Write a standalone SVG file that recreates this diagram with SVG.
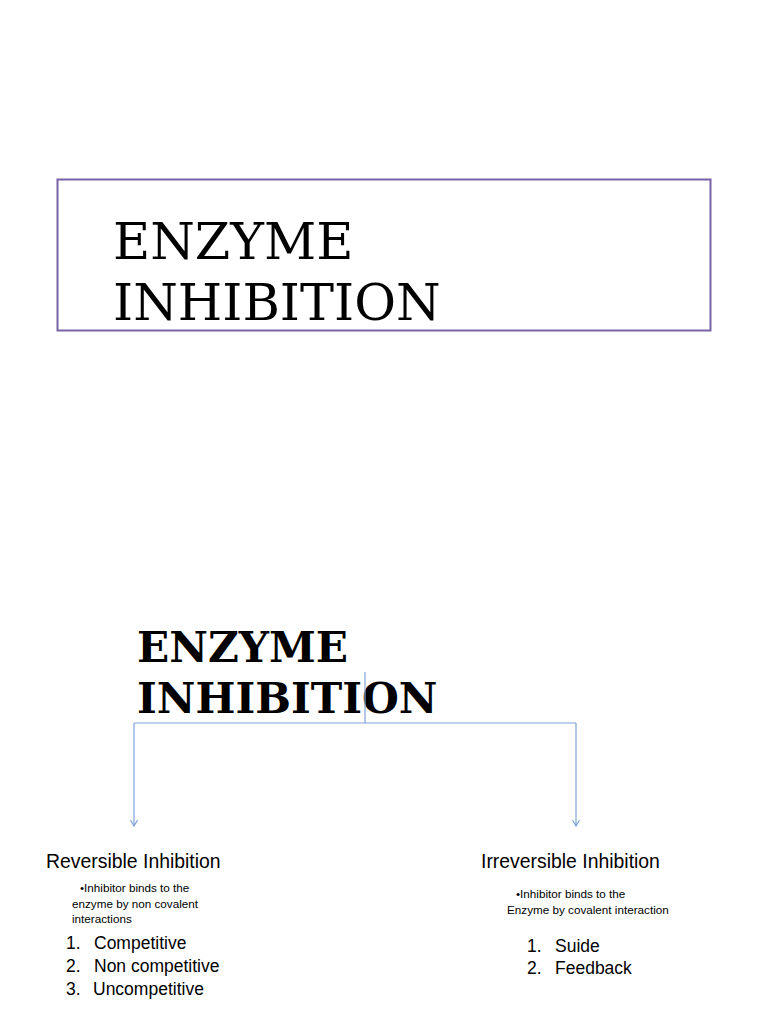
<svg xmlns="http://www.w3.org/2000/svg" width="768" height="1024" viewBox="0 0 768 1024">
<style>
.t1{font-family:"DejaVu Serif",serif;font-size:51px;fill:#000}
.t2{font-family:"DejaVu Serif",serif;font-size:42.3px;font-weight:bold;fill:#000}
.h{font-family:"Liberation Sans",Arial,sans-serif;font-size:19.4px;fill:#000}
.s{font-family:"Liberation Sans",Arial,sans-serif;font-size:11.7px;fill:#000}
.l{font-family:"Liberation Sans",Arial,sans-serif;font-size:17.5px;fill:#000}
.c{stroke:#7ea3d8;stroke-width:1.2;fill:none}
</style>
<defs>
<marker id="ah" markerWidth="10" markerHeight="10" refX="8" refY="5" orient="auto" markerUnits="userSpaceOnUse" viewBox="0 0 10 10">
<path d="M2,1.5 L8,5 L2,8.5" fill="none" stroke="#7ea3d8" stroke-width="1.2"/>
</marker>
</defs>
<rect width="768" height="1024" fill="#fff"/>
<g id="title-box">
<rect x="57.5" y="179.5" width="653" height="151" fill="#fff" stroke="#7a62a8" stroke-width="2"/>
<text class="t1" x="113" y="259">ENZYME</text>
<text class="t1" x="113" y="320">INHIBITION</text>
</g>
<g id="root">
<text class="t2" x="137" y="662">ENZYME</text>
<text class="t2" x="137" y="713">INHIBITION</text>
</g>
<g id="connectors">
<path class="c" d="M365,672 V723"/>
<path class="c" d="M134,723 H576"/>
<path class="c" d="M134,723 V826" marker-end="url(#ah)"/>
<path class="c" d="M576,723 V826" marker-end="url(#ah)"/>
</g>
<g id="reversible">
<text class="h" x="46" y="868">Reversible Inhibition</text>
<text class="s" x="80" y="892">•Inhibitor binds to the</text>
<text class="s" x="72" y="908">enzyme by non covalent</text>
<text class="s" x="72" y="923">interactions</text>
<text class="l" x="66" y="949">1.</text><text class="l" x="94" y="949">Competitive</text>
<text class="l" x="66" y="972">2.</text><text class="l" x="94" y="972">Non competitive</text>
<text class="l" x="66" y="995">3.</text><text class="l" x="93" y="995">Uncompetitive</text>
</g>
<g id="irreversible">
<text class="h" x="481" y="868">Irreversible Inhibition</text>
<text class="s" x="516" y="898">•Inhibitor binds to the</text>
<text class="s" x="507" y="914">Enzyme by covalent interaction</text>
<text class="l" x="527" y="952">1.</text><text class="l" x="555" y="952">Suide</text>
<text class="l" x="527" y="974">2.</text><text class="l" x="555" y="974">Feedback</text>
</g>
</svg>
